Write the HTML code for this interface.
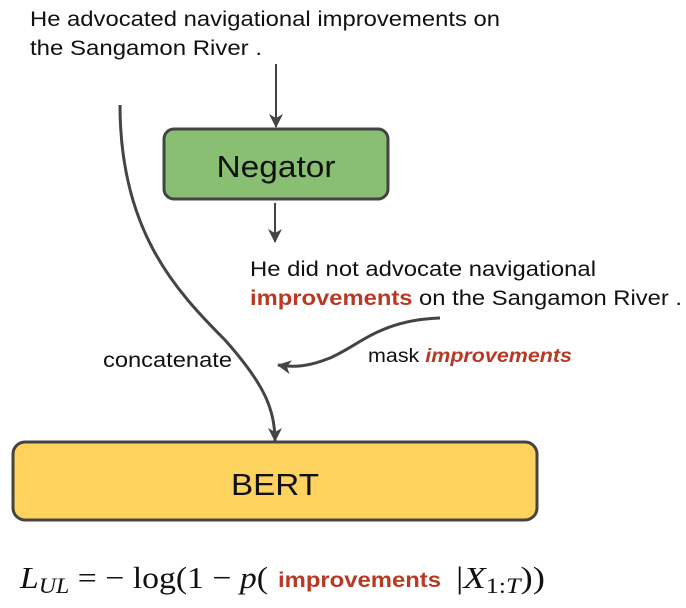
<!DOCTYPE html>
<html><head><style>
body{margin:0;width:686px;height:603px;background:#fff;overflow:hidden;font-family:"Liberation Sans",sans-serif;}
</style></head><body>
<svg width="686" height="603" viewBox="0 0 686 603" xmlns="http://www.w3.org/2000/svg">
<defs>
<marker id="a" markerWidth="14" markerHeight="14" refX="13" refY="7" orient="auto" markerUnits="userSpaceOnUse">
<path d="M0,0 L14,7 L0,14 L4,7 Z" fill="#444"/></marker>
</defs>
<g font-family="Liberation Sans, sans-serif" font-size="21" fill="#111">
<text x="30" y="26" textLength="470" lengthAdjust="spacingAndGlyphs">He advocated navigational improvements on</text>
<text x="30" y="55" textLength="232" lengthAdjust="spacingAndGlyphs">the Sangamon River .</text>
<text x="250" y="276" textLength="346" lengthAdjust="spacingAndGlyphs">He did not advocate navigational</text>
<text x="250" y="305" textLength="432" lengthAdjust="spacingAndGlyphs"><tspan fill="#b83a24" font-weight="bold">improvements</tspan> on the Sangamon River .</text>
<text x="103" y="367" textLength="129" lengthAdjust="spacingAndGlyphs">concatenate</text>
<text x="368" y="362" font-size="19" textLength="204" lengthAdjust="spacingAndGlyphs">mask <tspan fill="#b83a24" font-weight="bold" font-style="italic">improvements</tspan></text>
</g>
<line x1="276" y1="64" x2="276" y2="127" stroke="#444" stroke-width="2" marker-end="url(#a)"/>
<rect x="164" y="129" width="224" height="70" rx="10" fill="#89bf72" stroke="#444" stroke-width="3"/>
<text x="276" y="177" text-anchor="middle" font-family="Liberation Sans, sans-serif" font-size="31" fill="#111" textLength="119" lengthAdjust="spacingAndGlyphs">Negator</text>
<line x1="275" y1="203" x2="275" y2="242" stroke="#444" stroke-width="2" marker-end="url(#a)"/>
<path d="M120,105 C120,230 175,290 225,340 C265,385 275,410 275,441" fill="none" stroke="#444" stroke-width="3" marker-end="url(#a)"/>
<path d="M440,318 C380,320 360,345 330,358 C310,366 295,368 278,365" fill="none" stroke="#444" stroke-width="3" marker-end="url(#a)"/>
<rect x="13" y="442" width="524" height="78" rx="12" fill="#fdd35e" stroke="#444" stroke-width="3"/>
<text x="275" y="495" text-anchor="middle" font-family="Liberation Sans, sans-serif" font-size="31" fill="#111" textLength="88" lengthAdjust="spacingAndGlyphs">BERT</text>
<g font-family="Liberation Serif, serif" font-size="31" fill="#111">
<text x="20" y="588" textLength="248" lengthAdjust="spacingAndGlyphs"><tspan font-style="italic">L</tspan><tspan font-style="italic" font-size="22" dy="5">UL</tspan><tspan dy="-5"> = − log(1 − </tspan><tspan font-style="italic">p</tspan>(</text>
<text x="278" y="587" font-family="Liberation Sans, sans-serif" font-size="21" font-weight="bold" fill="#b83a24" textLength="163" lengthAdjust="spacingAndGlyphs">improvements</text>
<text x="456" y="588" textLength="89" lengthAdjust="spacingAndGlyphs">|<tspan font-style="italic">X</tspan><tspan font-size="22" dy="5">1:<tspan font-style="italic">T</tspan></tspan><tspan dy="-5">))</tspan></text>
</g>
</svg>
</body></html>
